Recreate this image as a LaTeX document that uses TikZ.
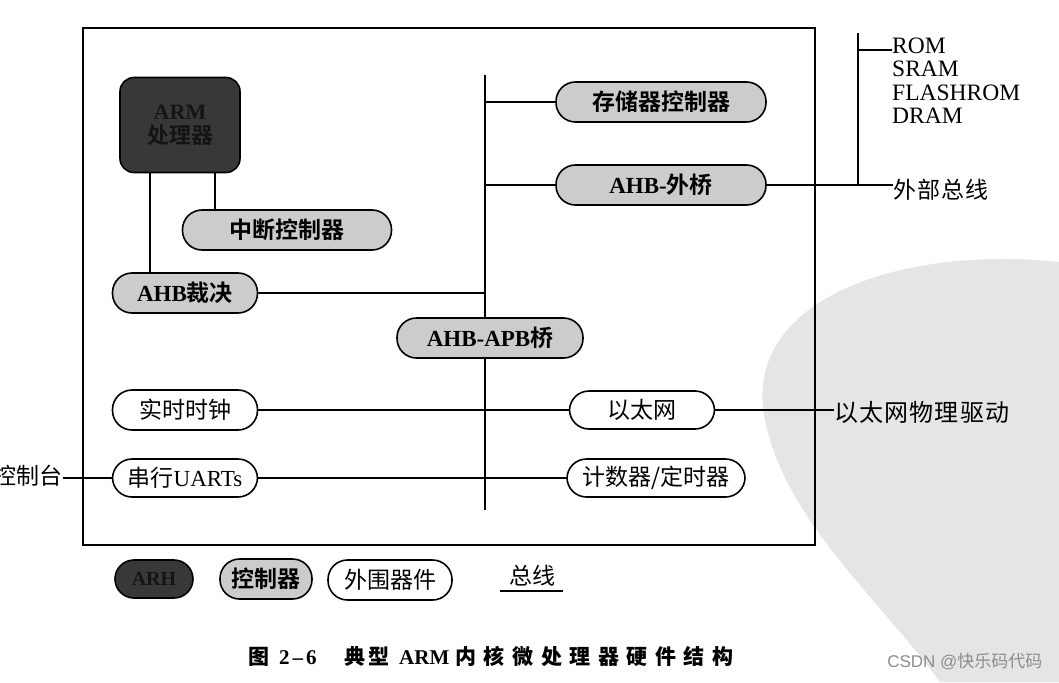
\documentclass[tikz,border=0pt]{standalone}
\usepackage{fontspec}
\setmainfont{Liberation Serif}
\setsansfont{Liberation Sans}
\newfontfamily\zhfont{Noto Sans CJK SC}[BoldFont={Noto Sans CJK SC Bold}]
\newfontfamily\zhwide{Noto Sans CJK SC}[LetterSpace=5]
\newfontfamily\zhcap{Noto Sans CJK SC Bold}[LetterSpace=36]
\newfontfamily\zhcapt{Noto Sans CJK SC Bold}[LetterSpace=12]
\newcommand{\zh}[1]{{\zhfont #1}}
\usetikzlibrary{positioning,backgrounds}

\begin{document}
\begin{tikzpicture}[x=1pt, y=-1pt,
    cpu/.style={rectangle, draw, line width=1.6pt, fill=black!78, text=black!92, minimum width=120pt, minimum height=95pt, rounded corners=14pt, align=center, inner sep=0pt, font=\bfseries\fontsize{22}{24}\selectfont},
    ctrl/.style={rectangle, draw, line width=1.6pt, fill=black!20, minimum height=40pt, rounded corners=19.5pt, inner sep=0pt, font=\bfseries\fontsize{23}{26}\selectfont},
    periph/.style={ctrl, fill=white, font=\fontsize{23}{26}\selectfont},
    tag/.style={inner sep=0pt, font=\fontsize{23}{26}\selectfont},
    memtag/.style={tag, anchor=west, font=\fontsize{23.5}{24}\selectfont},
    bus/.style={line width=1.6pt}
]
    \useasboundingbox (0,0) rectangle (1059,682);
    % watermark in the scan
    \fill [black!10] (1059,262) .. controls (900,245) and (740,300) .. (765,420)
        .. controls (785,520) and (880,600) .. (940,682) -- (1059,682) -- cycle;

    % Chip frame
    \draw [bus] (83,28) rectangle (815,545);

    % Processor and bus masters
    \node [cpu] (arm) at (180,125) {ARM\\\zh{处理器}};
    \node [ctrl, minimum width=209pt] (irq) at (287,230) {\zh{中断控制器}};
    \node [ctrl, minimum width=145pt] (arb) at (185,293) {AHB\zh{裁决}};
    \node [ctrl, minimum width=186pt] (apb) at (490,338) {AHB-APB\zh{桥}};

    % AHB side
    \node [ctrl, minimum width=210pt] (mem) at (661,102) {\zh{存储器控制器}};
    \node [ctrl, minimum width=210pt] (extb) at (661,185) {AHB-\zh{外桥}};

    % APB peripherals
    \node [periph, minimum width=145pt] (rtc) at (185,410) {\zh{实时时钟}};
    \node [periph, minimum width=145pt, minimum height=38pt] (eth) at (642,410) {\zh{以太网}};
    \node [periph, minimum width=145pt, minimum height=38pt] (uart) at (185,478) {\zh{串行}UARTs};
    \node [periph, minimum width=178pt, minimum height=38pt] (tmr) at (656,478) {\zh{计数器/定时器}};

    % Outside the chip
    \node [tag, anchor=east] (console) at (63,476) {\zh{控制台}};
    \node [tag, anchor=west, font=\fontsize{24}{26}\selectfont] (ethphy) at (834,412) {\zhwide 以太网物理驱动};
    \node [tag, anchor=west] (extbus) at (893,190) {\zhwide 外部总线};
    \node [memtag] (rom) at (892,46) {ROM};
    \node [memtag] (sram) at (892,69) {SRAM};
    \node [memtag] (flash) at (892,93) {FLASHROM};
    \node [memtag] (dram) at (892,116) {DRAM};

    % Buses
    \coordinate (bustop) at (485,75);
    \coordinate (busbot) at (485,510);
    \coordinate (extv) at (858,33);
    \coordinate (armL) at ([xshift=-30pt]arm.south);
    \coordinate (armR) at ([xshift=35pt]arm.south);
    \coordinate (romtick) at ([yshift=-4pt]rom.west);
    \draw [bus] (bustop) -- (apb.north -| bustop);
    \draw [bus] (apb.south -| bustop) -- (busbot);
    \draw [bus] (extv) -- (extv |- extb.east);
    \draw [bus] (romtick -| extv) -- (romtick);

    % Connections
    \draw [bus] (armL) -- (armL |- arb.north);
    \draw [bus] (armR) -- (armR |- irq.north);
    \draw [bus] (arb.east) -- (arb.east -| bustop);
    \draw [bus] (mem.west) -- (mem.west -| bustop);
    \draw [bus] (extb.west) -- (extb.west -| bustop);
    \draw [bus] (extb.east) -- (extb.east -| extbus.west);
    \draw [bus] (rtc.east) -- (eth.west);
    \draw [bus] (eth.east) -- (eth.east -| ethphy.west);
    \draw [bus] (uart.west -| console.east) -- (uart.west);
    \draw [bus] (uart.east) -- (tmr.west);

    % Legend
    \node [cpu, minimum width=78pt, minimum height=38pt, rounded corners=19pt, font=\bfseries\fontsize{20}{22}\selectfont] (lgarm) at (154,579) {ARH};
    \node [ctrl, minimum width=92pt] (lgctrl) at (266,579) {\zh{控制器}};
    \node [periph, minimum width=124pt] (lgper) at (390,580) {\zh{外围器件}};
    \node [tag] (lgbus) at (532,576) {\zh{总线}};
    \coordinate (lgbusL) at (500,591);
    \coordinate (lgbusR) at (563,591);
    \draw [bus] (lgbusL) -- (lgbusR);

    % Caption
    \node [anchor=west, inner sep=0pt, font=\bfseries\fontsize{21}{24}\selectfont] (caption) at (248,656)
        {{\zhcapt 图}\hspace{10pt}2\hspace{3pt}--\hspace{3pt}6\hspace{28pt}{\zhcapt 典型}\hspace{10pt}ARM\hspace{6pt}{\zhcap 内核微处理器硬件结构}};
    \node [anchor=east, text=black!45, font=\sffamily\fontsize{17}{17}\selectfont] (csdn) at (1046,662) {CSDN @\zh{快乐码代码}};
\end{tikzpicture}
\end{document}
